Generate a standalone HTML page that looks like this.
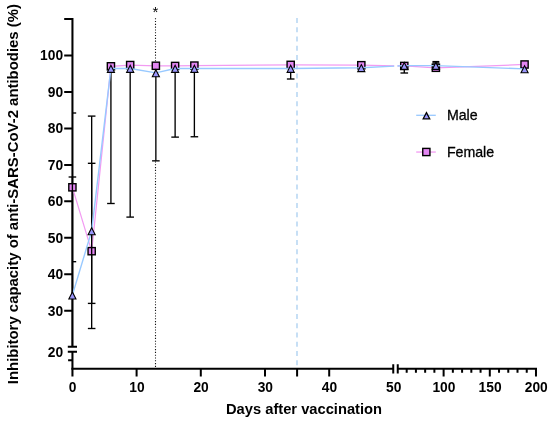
<!DOCTYPE html>
<html lang="en"><head><meta charset="utf-8"><title>Inhibitory capacity chart</title>
<style>html,body{margin:0;padding:0;background:#fff;width:550px;height:422px;overflow:hidden}svg{display:block;position:absolute;left:0;top:0}</style></head>
<body>
<svg width="550" height="422" viewBox="0 0 550 422" role="img" aria-label="Inhibitory capacity of anti-SARS-CoV-2 antibodies by days after vaccination, male vs female">
<rect width="550" height="422" fill="#fff"/>
<g id="refs">
<path d="M155.5,18.2 V62 M155.5,161.45 V368" fill="none" stroke="#111" stroke-width="1.1" stroke-dasharray="1.1 1.7"/>
<line x1="297" y1="18" x2="297" y2="368" stroke="#b9d7f3" stroke-width="1.6" stroke-dasharray="5 4.25"/>
</g>
<g id="axes">
<g stroke="#000" stroke-width="2.05" fill="none">
<path d="M72.45,18.0 V346.8 M72.45,351.7 V376.5"/>
<path d="M71.4,368.7 H393.3 M397.7,368.7 H537.0"/>
</g>
<g stroke="#000" stroke-width="2.0" fill="none">
<path d="M64.2,19.0 H72.45 M64.2,310.72 H72.45 M64.2,274.26 H72.45 M64.2,237.80 H72.45 M64.2,201.34 H72.45 M64.2,164.88 H72.45 M64.2,128.42 H72.45 M64.2,91.96 H72.45 M64.2,55.50 H72.45 M67.8,346.8 H77 M67.8,351.7 H77 M68.1,360.2 H72.45"/>
<path d="M136.60,368.7 V376.4 M200.80,368.7 V376.4 M265.00,368.7 V376.4 M297.10,368.7 V376.4 M329.20,368.7 V376.4 M393.25,364.2 V373.5 M397.75,364.2 V373.5 M406.69,368.7 V372.7 M415.92,368.7 V372.7 M425.15,368.7 V372.7 M434.39,368.7 V372.7 M443.62,368.7 V376.4 M452.86,368.7 V372.7 M462.09,368.7 V372.7 M471.33,368.7 V372.7 M480.56,368.7 V372.7 M489.80,368.7 V376.4 M499.03,368.7 V372.7 M508.27,368.7 V372.7 M517.50,368.7 V372.7 M526.74,368.7 V372.7 M535.98,368.7 V376.4"/>
</g>
</g>
<g id="female">
<line x1="72.40" y1="113.00" x2="76.20" y2="113.00" stroke="#000" stroke-width="1.35"/>
<line x1="72.40" y1="261.70" x2="76.20" y2="261.70" stroke="#000" stroke-width="1.35"/>
<line x1="91.66" y1="116.10" x2="91.66" y2="328.50" stroke="#000" stroke-width="1.35"/>
<line x1="87.86" y1="116.10" x2="95.46" y2="116.10" stroke="#000" stroke-width="1.35"/>
<line x1="87.86" y1="328.50" x2="95.46" y2="328.50" stroke="#000" stroke-width="1.35"/>
<line x1="435.87" y1="61.60" x2="435.87" y2="67.78" stroke="#000" stroke-width="1.35"/>
<line x1="432.42" y1="61.60" x2="439.32" y2="61.60" stroke="#000" stroke-width="1.35"/>
<line x1="432.42" y1="62.90" x2="439.32" y2="62.90" stroke="#000" stroke-width="1.35"/>
<polyline fill="none" stroke="#f29bf2" stroke-width="1.25" points="72.40,187.31 91.66,251.19 110.92,66.31 130.18,65.04 155.86,65.77 175.12,65.95 194.38,65.59 290.68,64.86 361.30,65.22 394.20,65.78"/>
<polyline fill="none" stroke="#f29bf2" stroke-width="1.25" points="397.50,65.83 404.28,65.95 435.87,67.78 524.57,64.49"/>
<rect x="68.80" y="183.71" width="7.2" height="7.2" fill="#e386f2" stroke="#000" stroke-width="1.4"/>
<rect x="88.06" y="247.59" width="7.2" height="7.2" fill="#e386f2" stroke="#000" stroke-width="1.4"/>
<rect x="107.32" y="62.71" width="7.2" height="7.2" fill="#e386f2" stroke="#000" stroke-width="1.4"/>
<rect x="126.58" y="61.44" width="7.2" height="7.2" fill="#e386f2" stroke="#000" stroke-width="1.4"/>
<rect x="152.26" y="62.17" width="7.2" height="7.2" fill="#e386f2" stroke="#000" stroke-width="1.4"/>
<rect x="171.52" y="62.35" width="7.2" height="7.2" fill="#e386f2" stroke="#000" stroke-width="1.4"/>
<rect x="190.78" y="61.99" width="7.2" height="7.2" fill="#e386f2" stroke="#000" stroke-width="1.4"/>
<rect x="287.08" y="61.26" width="7.2" height="7.2" fill="#e386f2" stroke="#000" stroke-width="1.4"/>
<rect x="357.70" y="61.62" width="7.2" height="7.2" fill="#e386f2" stroke="#000" stroke-width="1.4"/>
<rect x="400.68" y="62.35" width="7.2" height="7.2" fill="#e386f2" stroke="#000" stroke-width="1.4"/>
<rect x="432.27" y="64.18" width="7.2" height="7.2" fill="#e386f2" stroke="#000" stroke-width="1.4"/>
<rect x="520.97" y="60.89" width="7.2" height="7.2" fill="#e386f2" stroke="#000" stroke-width="1.4"/>
</g>
<g id="male">
<line x1="72.40" y1="177.00" x2="72.40" y2="346.00" stroke="#000" stroke-width="1.35"/>
<line x1="68.60" y1="177.00" x2="76.20" y2="177.00" stroke="#000" stroke-width="1.35"/>
<line x1="91.66" y1="163.30" x2="91.66" y2="303.40" stroke="#000" stroke-width="1.35"/>
<line x1="87.86" y1="163.30" x2="95.46" y2="163.30" stroke="#000" stroke-width="1.35"/>
<line x1="87.86" y1="303.40" x2="95.46" y2="303.40" stroke="#000" stroke-width="1.35"/>
<line x1="110.92" y1="68.51" x2="110.92" y2="203.50" stroke="#000" stroke-width="1.35"/>
<line x1="107.12" y1="203.50" x2="114.72" y2="203.50" stroke="#000" stroke-width="1.35"/>
<line x1="130.18" y1="68.51" x2="130.18" y2="217.10" stroke="#000" stroke-width="1.35"/>
<line x1="126.38" y1="217.10" x2="133.98" y2="217.10" stroke="#000" stroke-width="1.35"/>
<line x1="155.86" y1="72.89" x2="155.86" y2="160.85" stroke="#000" stroke-width="1.35"/>
<line x1="152.06" y1="160.85" x2="159.66" y2="160.85" stroke="#000" stroke-width="1.35"/>
<line x1="175.12" y1="68.51" x2="175.12" y2="137.12" stroke="#000" stroke-width="1.35"/>
<line x1="171.32" y1="137.12" x2="178.92" y2="137.12" stroke="#000" stroke-width="1.35"/>
<line x1="194.38" y1="68.51" x2="194.38" y2="136.76" stroke="#000" stroke-width="1.35"/>
<line x1="190.58" y1="136.76" x2="198.18" y2="136.76" stroke="#000" stroke-width="1.35"/>
<line x1="290.68" y1="68.51" x2="290.68" y2="79.00" stroke="#000" stroke-width="1.35"/>
<line x1="286.88" y1="79.00" x2="294.48" y2="79.00" stroke="#000" stroke-width="1.35"/>
<line x1="404.28" y1="65.95" x2="404.28" y2="73.00" stroke="#000" stroke-width="1.35"/>
<line x1="400.48" y1="73.00" x2="408.08" y2="73.00" stroke="#000" stroke-width="1.35"/>
<polyline fill="none" stroke="#98c9ff" stroke-width="1.4" points="72.40,295.17 91.66,230.93 110.92,68.51 130.18,68.51 155.86,72.89 175.12,68.51 194.38,68.51 290.68,68.51 361.30,67.78 394.20,66.10"/>
<polyline fill="none" stroke="#98c9ff" stroke-width="1.4" points="397.50,65.93 404.28,65.59 435.87,65.59 524.57,68.87"/>
<path d="M72.40,292.00 L75.95,299.00 L68.85,299.00 Z" fill="#9a96fb" stroke="#000" stroke-width="1.1" stroke-linejoin="miter"/>
<path d="M91.66,227.76 L95.21,234.76 L88.11,234.76 Z" fill="#9a96fb" stroke="#000" stroke-width="1.1" stroke-linejoin="miter"/>
<path d="M110.92,65.34 L114.47,72.34 L107.37,72.34 Z" fill="#9a96fb" stroke="#000" stroke-width="1.1" stroke-linejoin="miter"/>
<path d="M130.18,65.34 L133.73,72.34 L126.63,72.34 Z" fill="#9a96fb" stroke="#000" stroke-width="1.1" stroke-linejoin="miter"/>
<path d="M155.86,69.72 L159.41,76.72 L152.31,76.72 Z" fill="#9a96fb" stroke="#000" stroke-width="1.1" stroke-linejoin="miter"/>
<path d="M175.12,65.34 L178.67,72.34 L171.57,72.34 Z" fill="#9a96fb" stroke="#000" stroke-width="1.1" stroke-linejoin="miter"/>
<path d="M194.38,65.34 L197.93,72.34 L190.83,72.34 Z" fill="#9a96fb" stroke="#000" stroke-width="1.1" stroke-linejoin="miter"/>
<path d="M290.68,65.34 L294.23,72.34 L287.13,72.34 Z" fill="#9a96fb" stroke="#000" stroke-width="1.1" stroke-linejoin="miter"/>
<path d="M361.30,64.61 L364.85,71.61 L357.75,71.61 Z" fill="#9a96fb" stroke="#000" stroke-width="1.1" stroke-linejoin="miter"/>
<path d="M404.28,62.42 L407.83,69.42 L400.73,69.42 Z" fill="#9a96fb" stroke="#000" stroke-width="1.1" stroke-linejoin="miter"/>
<path d="M435.87,62.42 L439.42,69.42 L432.32,69.42 Z" fill="#9a96fb" stroke="#000" stroke-width="1.1" stroke-linejoin="miter"/>
<path d="M524.57,65.70 L528.12,72.70 L521.02,72.70 Z" fill="#9a96fb" stroke="#000" stroke-width="1.1" stroke-linejoin="miter"/>
</g>
<g id="labels">
<g font-family='"Liberation Sans", Arial, Helvetica, sans-serif' font-weight="bold" font-size="14.67px" fill="#000">
<text transform="translate(63.10,315.52) scale(0.94,1)" text-anchor="end">30</text>
<text transform="translate(63.10,279.06) scale(0.94,1)" text-anchor="end">40</text>
<text transform="translate(63.10,242.60) scale(0.94,1)" text-anchor="end">50</text>
<text transform="translate(63.10,206.14) scale(0.94,1)" text-anchor="end">60</text>
<text transform="translate(63.10,169.68) scale(0.94,1)" text-anchor="end">70</text>
<text transform="translate(63.10,133.22) scale(0.94,1)" text-anchor="end">80</text>
<text transform="translate(63.10,96.76) scale(0.94,1)" text-anchor="end">90</text>
<text transform="translate(63.10,60.30) scale(0.94,1)" text-anchor="end">100</text>
<text transform="translate(63.10,357.30) scale(0.94,1)" text-anchor="end">20</text>
<text transform="translate(72.70,392.10) scale(0.94,1)" text-anchor="middle">0</text>
<text transform="translate(136.90,392.10) scale(0.94,1)" text-anchor="middle">10</text>
<text transform="translate(201.10,392.10) scale(0.94,1)" text-anchor="middle">20</text>
<text transform="translate(265.30,392.10) scale(0.94,1)" text-anchor="middle">30</text>
<text transform="translate(329.50,392.10) scale(0.94,1)" text-anchor="middle">40</text>
<text transform="translate(393.70,392.10) scale(0.94,1)" text-anchor="middle">50</text>
<text transform="translate(443.93,392.10) scale(0.94,1)" text-anchor="middle">100</text>
<text transform="translate(490.10,392.10) scale(0.94,1)" text-anchor="middle">150</text>
<text transform="translate(536.27,392.10) scale(0.94,1)" text-anchor="middle">200</text>
<text x="226" y="414.3" textLength="156" lengthAdjust="spacingAndGlyphs" font-size="14.9px">Days after vaccination</text>
<text transform="translate(17.8,384.2) rotate(-90)" textLength="380.2" lengthAdjust="spacingAndGlyphs" font-size="15.2px">Inhibitory capacity of anti-SARS-CoV-2 antibodies (%)</text>
<text x="155.5" y="16.7" text-anchor="middle" font-weight="normal" font-size="15px">*</text>
</g>
</g>
<g id="legend">
<line x1="416.2" y1="115.3" x2="435.8" y2="115.3" stroke="#98c9ff" stroke-width="1.3"/>
<path d="M426.45,112.58 L429.70,118.78 L423.20,118.78 Z" fill="#9a96fb" stroke="#000" stroke-width="1.3" stroke-linejoin="miter"/>
<line x1="416.2" y1="152.05" x2="435.8" y2="152.05" stroke="#f29bf2" stroke-width="1.3"/>
<rect x="422.75" y="148.40" width="7.2" height="7.2" fill="#e386f2" stroke="#000" stroke-width="1.4"/>
<g font-family='"Liberation Sans", Arial, Helvetica, sans-serif' font-size="15px" fill="#000" stroke="#000" stroke-width="0.3">
<text transform="translate(446.9,120.1) scale(0.945,1)">Male</text>
<text transform="translate(446.9,157) scale(0.945,1)">Female</text>
</g>
</g>
</svg>
</body></html>
